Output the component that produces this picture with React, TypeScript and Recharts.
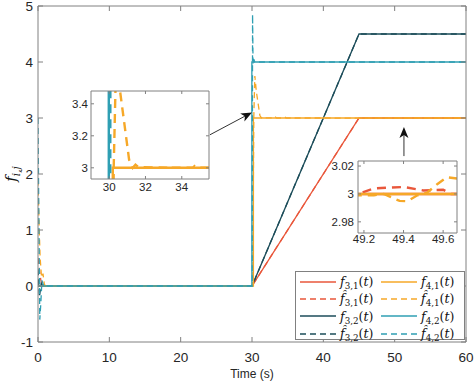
import React from 'react';
import { LineChart, Line, XAxis, YAxis, ReferenceLine } from 'recharts';

type Pt = { t: number; v: number };

// tick values
const timeTicks = [0, 10, 20, 30, 40, 50, 60];
const valueTicks = [-1, 0, 1, 2, 3, 4, 5];
const zoomATimeTicks = [30, 32, 34];
const zoomAValueTicks = [3, 3.2, 3.4];
const zoomBTimeTicks = [49.2, 49.4, 49.6];
const zoomBValueTicks = [2.98, 3, 3.02];

// reference signals
const f31: Pt[] = [{ t: 0, v: 0 }, { t: 30, v: 0 }, { t: 45, v: 3 }, { t: 60, v: 3 }];
const f32: Pt[] = [{ t: 0, v: 0 }, { t: 30, v: 0 }, { t: 45, v: 4.5 }, { t: 60, v: 4.5 }];
const f41: Pt[] = [{ t: 0, v: 0 }, { t: 30.2, v: 0 }, { t: 30.2, v: 3 }, { t: 60, v: 3 }];
const f42: Pt[] = [{ t: 0, v: 0 }, { t: 29.98, v: 0 }, { t: 29.98, v: 4 }, { t: 60, v: 4 }];

// estimates
const hatF31: Pt[] = [
  { t: 0, v: 0.5 }, { t: 0.2, v: 0.3 }, { t: 0.4, v: 0.1 }, { t: 0.7, v: 0 },
  { t: 30, v: 0 }, { t: 45, v: 3 }, { t: 49.17, v: 3.0 }, { t: 49.25, v: 3.004 },
  { t: 49.4, v: 3.005 }, { t: 49.5, v: 3.0025 }, { t: 49.6, v: 3.003 }, { t: 49.64, v: 3.0 },
  { t: 60, v: 3 },
];
const hatF32: Pt[] = [
  { t: 0, v: 0.3 }, { t: 0.2, v: -0.2 }, { t: 0.45, v: 0.05 }, { t: 0.7, v: 0 },
  { t: 30, v: 0 }, { t: 45, v: 4.5 }, { t: 60, v: 4.5 },
];
const hatF41: Pt[] = [
  { t: 0, v: 1.9 }, { t: 0.15, v: 1.1 }, { t: 0.3, v: 0.5 }, { t: 0.5, v: 0.15 },
  { t: 0.7, v: 0.22 }, { t: 0.9, v: 0.02 }, { t: 1.2, v: 0 },
  { t: 30.1, v: 0 }, { t: 30.25, v: 3.0 }, { t: 30.4, v: 3.75 }, { t: 30.6, v: 3.48 },
  { t: 31.1, v: 3.05 }, { t: 31.3, v: 3.0 }, { t: 31.45, v: 3.02 }, { t: 31.6, v: 3.005 },
  { t: 33.2, v: 3.0 }, { t: 33.3, v: 3.015 }, { t: 33.45, v: 3.0 }, { t: 34.6, v: 3.0 },
  { t: 34.7, v: 3.01 }, { t: 34.8, v: 3.0 },
  { t: 49.17, v: 2.999 }, { t: 49.25, v: 2.999 }, { t: 49.3, v: 3.0 }, { t: 49.38, v: 2.995 },
  { t: 49.42, v: 2.9948 }, { t: 49.47, v: 2.999 }, { t: 49.52, v: 3.001 }, { t: 49.57, v: 3.007 },
  { t: 49.62, v: 3.012 }, { t: 49.67, v: 3.011 }, { t: 50, v: 3.0 }, { t: 60, v: 3.0 },
];
const hatF42: Pt[] = [
  { t: 0, v: 3.0 }, { t: 0.1, v: 1.5 }, { t: 0.25, v: -0.6 }, { t: 0.4, v: -0.3 },
  { t: 0.55, v: 0.1 }, { t: 0.8, v: 0 },
  { t: 30.03, v: 0 }, { t: 30.08, v: 4.85 }, { t: 30.15, v: 3.95 }, { t: 30.25, v: 4.05 },
  { t: 30.4, v: 4.0 }, { t: 60, v: 4.0 },
];

const RED = '#e9573b';
const ORANGE = '#f6a828';
const DARK = '#1c4d5a';
const TEAL = '#2f9fb3';
const AXIS = '#808080';
const INK = '#262626';

type Series = { key: string; data: Pt[]; color: string; dashed: boolean; hat: boolean; sub: string };

const series: Series[] = [
  { key: 'f31', data: f31, color: RED, dashed: false, hat: false, sub: '3,1' },
  { key: 'hf31', data: hatF31, color: RED, dashed: true, hat: true, sub: '3,1' },
  { key: 'f32', data: f32, color: DARK, dashed: false, hat: false, sub: '3,2' },
  { key: 'hf32', data: hatF32, color: DARK, dashed: true, hat: true, sub: '3,2' },
  { key: 'f41', data: f41, color: ORANGE, dashed: false, hat: false, sub: '4,1' },
  { key: 'hf41', data: hatF41, color: ORANGE, dashed: true, hat: true, sub: '4,1' },
  { key: 'f42', data: f42, color: TEAL, dashed: false, hat: false, sub: '4,2' },
  { key: 'hf42', data: hatF42, color: TEAL, dashed: true, hat: true, sub: '4,2' },
];
const legendOrder = ['f31', 'f41', 'hf31', 'hf41', 'f32', 'f42', 'hf32', 'hf42'];

function boxAxes(opts: {
  xDomain: number[]; yDomain: number[]; xTicks: number[]; yTicks: number[];
  fontSize: number; tickLen: number; xMargin: number; yMargin: number; yWidth: number; xHeight: number;
  xLabel?: any;
}) {
  const tickStyle = { fontSize: opts.fontSize, fill: INK, fontFamily: 'Liberation Sans, Arial, sans-serif' };
  const common = { stroke: AXIS, tickSize: -opts.tickLen, allowDataOverflow: true };
  const none = () => <g />;
  return [
    <XAxis key="xb" xAxisId={0} dataKey="t" type="number" domain={opts.xDomain} ticks={opts.xTicks}
      height={opts.xHeight} tickMargin={opts.xMargin} tick={tickStyle} interval={0} label={opts.xLabel} {...common} />,
    <XAxis key="xt" xAxisId="top" orientation="top" dataKey="t" type="number" domain={opts.xDomain}
      ticks={opts.xTicks} height={1} tick={none} interval={0} {...common} />,
    <YAxis key="yl" yAxisId={0} type="number" domain={opts.yDomain} ticks={opts.yTicks}
      width={opts.yWidth} tickMargin={opts.yMargin} tick={tickStyle} interval={0} {...common} />,
    <YAxis key="yr" yAxisId="right" orientation="right" type="number" domain={opts.yDomain}
      ticks={opts.yTicks} width={1} tick={none} interval={0} {...common} />,
  ];
}

function renderLines(width: number, dash: string) {
  return series.map((s) => (
    <Line key={s.key} data={s.data} dataKey="v" type="linear" stroke={s.color} strokeWidth={width}
      strokeDasharray={s.dashed ? dash : undefined} dot={false} activeDot={false}
      isAnimationActive={false} />
  ));
}

const ArrowShape = (props: any) => {
  const { x1, y1, x2, y2 } = props;
  const ang = Math.atan2(y2 - y1, x2 - x1);
  const c = Math.cos(ang);
  const s = Math.sin(ang);
  const len = 11;
  const half = 4.5;
  const notch = 8;
  const pt = (d: number, o: number) => `${x2 - d * c - o * s},${y2 - d * s + o * c}`;
  return (
    <g>
      <line x1={x1} y1={y1} x2={x2 - notch * c} y2={y2 - notch * s} stroke="#333" strokeWidth={1} />
      <path d={`M${pt(0, 0)} L${pt(len, half)} L${pt(notch, 0)} L${pt(len, -half)} Z`} fill="#111" />
    </g>
  );
};

function MathLabel({ hat, sub, size }: { hat: boolean; sub: string; size: number }) {
  return (
    <span style={{ fontFamily: 'DejaVu Serif, Liberation Serif, serif', fontSize: size, color: '#111', whiteSpace: 'nowrap' }}>
      <i>{hat ? 'f\u0302' : 'f'}</i>
      <sub style={{ fontSize: '0.7em', verticalAlign: '-0.3em' }}>{sub}</sub>(<i>t</i>)
    </span>
  );
}

export default function App() {
  const byKey = Object.fromEntries(series.map((s) => [s.key, s]));
  return (
    <div style={{ position: 'relative', width: 474, height: 382, background: '#fff', overflow: 'hidden' }}>
      <style>{'body{margin:0}'}</style>
      <LineChart width={474} height={382} margin={{ top: 5, right: 7, bottom: 0, left: 8 }}>
        {boxAxes({
          xDomain: [0, 60], yDomain: [-1, 5], xTicks: timeTicks, yTicks: valueTicks,
          fontSize: 13.5, tickLen: 5, xMargin: 15, yMargin: 10, yWidth: 30, xHeight: 40,
          xLabel: { value: 'Time (s)', position: 'insideBottom', offset: 4, fill: INK, fontSize: 12, fontFamily: 'Liberation Sans, Arial, sans-serif' },
        })}
        {renderLines(1.3, '6 4')}
        <ReferenceLine segment={[{ x: 24.1, y: 2.7 }, { x: 30.0, y: 3.1 }]} shape={ArrowShape} />
        <ReferenceLine segment={[{ x: 51.3, y: 2.32 }, { x: 51.3, y: 2.84 }]} shape={ArrowShape} />
      </LineChart>

      <div style={{ position: 'absolute', left: 60, top: 84 }}>
        <LineChart width={154} height={116} margin={{ top: 6, right: 4, bottom: 0, left: 0 }}>
          {boxAxes({
            xDomain: [29, 35.5], yDomain: [2.93, 3.48], xTicks: zoomATimeTicks, yTicks: zoomAValueTicks,
            fontSize: 11.5, tickLen: 3, xMargin: 7, yMargin: 6, yWidth: 31, xHeight: 21,
          })}
          {renderLines(2.4, '9 6')}
        </LineChart>
      </div>

      <div style={{ position: 'absolute', left: 326, top: 154 }}>
        <LineChart width={136} height={100} margin={{ top: 6, right: 4, bottom: 0, left: 0 }}>
          {boxAxes({
            xDomain: [49.17, 49.67], yDomain: [2.972, 3.0236], xTicks: zoomBTimeTicks, yTicks: zoomBValueTicks,
            fontSize: 11.5, tickLen: 3, xMargin: 5, yMargin: 7, yWidth: 32, xHeight: 21,
          })}
          {renderLines(2.4, '9 6')}
        </LineChart>
      </div>

      <div style={{
        position: 'absolute', left: 295, top: 271, width: 170, height: 69, boxSizing: 'border-box',
        border: `1px solid ${AXIS}`, background: '#fff', display: 'grid',
        gridTemplateColumns: '1fr 1fr', gridAutoRows: '1fr', padding: '1px 3px',
      }}>
        {legendOrder.map((k) => {
          const s = byKey[k];
          return (
            <div key={k} style={{ display: 'flex', alignItems: 'center', lineHeight: 1 }}>
              <svg width={38} height={6} style={{ flex: 'none' }}>
                <line x1={1} y1={3} x2={37} y2={3} stroke={s.color} strokeWidth={1.5}
                  strokeDasharray={s.dashed ? '6 4' : undefined} />
              </svg>
              <span style={{ marginLeft: 3 }}>
                <MathLabel hat={s.hat} sub={s.sub} size={12.5} />
              </span>
            </div>
          );
        })}
      </div>

      <div style={{
        position: 'absolute', left: 12, top: 174, transform: 'translate(-50%, -50%) rotate(-90deg)',
        fontFamily: 'DejaVu Serif, Liberation Serif, serif', fontSize: 15, color: '#111', whiteSpace: 'nowrap',
      }}>
        <i>f</i>
        <sub style={{ fontStyle: 'italic', fontSize: '0.7em', verticalAlign: '-0.3em' }}>i,j</sub>
      </div>
    </div>
  );
}
